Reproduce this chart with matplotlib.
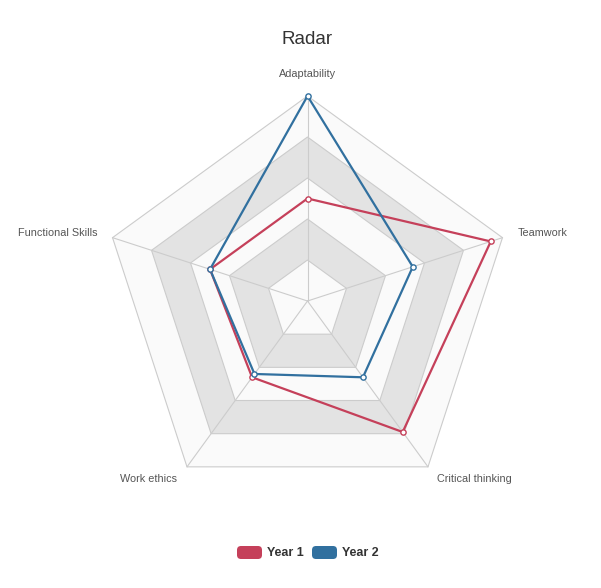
import numpy as np
import matplotlib
matplotlib.use('Agg')
import matplotlib.pyplot as plt
from matplotlib.patches import Polygon, FancyBboxPatch

indicators = ['Adaptability', 'Teamwork', 'Critical thinking', 'Work ethics', 'Functional Skills']
year1 = [5.0, 9.4, 7.9, 4.6, 5.0]
year2 = [10.0, 5.4, 4.6, 4.4, 5.0]
max_value = 10.0
series_names = ['Year 1', 'Year 2']
colors = ['#c5405a', '#31709f']

# layout in pixels (axes covers whole figure)
W, H = 601, 588
cx, cy, R = 307.5, 301, 205
n = len(indicators)
angles = np.arange(n) * 2 * np.pi / n  # clockwise from top


def to_xy(values, scale=1.0):
    r = np.asarray(values, dtype=float) / max_value * R * scale
    return cx + r * np.sin(angles), cy - r * np.cos(angles)


fig = plt.figure(figsize=(W / 100, H / 100), dpi=100)
ax = fig.add_axes([0, 0, 1, 1])
ax.set_xlim(0, W)
ax.set_ylim(H, 0)
ax.axis('off')

# split areas, outer to inner so inner rings paint over
levels = 5
area_colors = ['#fafafa', '#e3e3e3']
for i in range(levels, 0, -1):
    xs, ys = to_xy([max_value] * n, i / levels)
    fc = area_colors[(i - 1) % 2]
    ax.add_patch(Polygon(np.column_stack([xs, ys]), closed=True, facecolor=fc,
                         edgecolor='#cccccc', lw=0.8, zorder=1))

# spokes
xs, ys = to_xy([max_value] * n)
for x, y in zip(xs, ys):
    ax.plot([cx, x], [cy, y], color='#cccccc', lw=0.8, zorder=2)

# indicator labels
label_specs = [
    (0, -17, 'center', 'bottom'),
    (15, -5, 'left', 'center'),
    (9, 12, 'left', 'center'),
    (-10, 12, 'right', 'center'),
    (-15, -5, 'right', 'center'),
]
for name, x, y, (dx, dy, ha, va) in zip(indicators, xs, ys, label_specs):
    ax.text(x + dx, y + dy, name, ha=ha, va=va, fontsize=7.8, color='#555555',
            family='Liberation Sans')

# series
for vals, c in zip([year1, year2], colors):
    px, py = to_xy(vals)
    ax.plot(np.append(px, px[0]), np.append(py, py[0]), color=c, lw=1.6, zorder=4,
            solid_joinstyle='round')
    ax.plot(px, py, 'o', ms=3.8, mfc='white', mec=c, mew=1.0, zorder=5)

# title
ax.text(cx, 40, 'Radar', ha='center', va='center', fontsize=13.5, color='#333333',
        family='Liberation Sans')

# legend
lx = 237
for name, c in zip(series_names, colors):
    ax.add_patch(FancyBboxPatch((lx, 546), 25, 13, boxstyle='round,pad=0,rounding_size=4',
                                facecolor=c, edgecolor='none', zorder=6))
    ax.text(lx + 30, 552.5, name, ha='left', va='center', fontsize=9, fontweight='bold',
            color='#333333', family='Liberation Sans')
    lx += 75

fig.savefig('out.png', dpi=100)
